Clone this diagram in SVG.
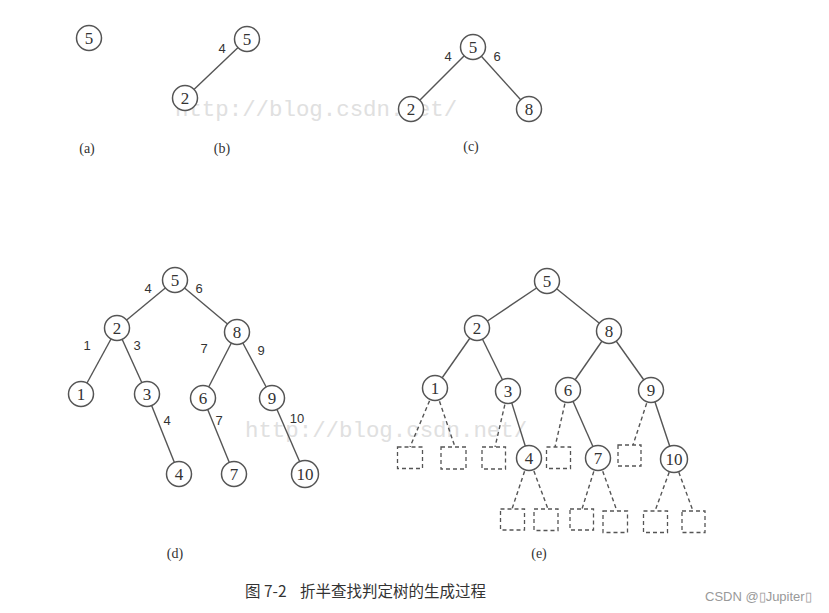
<svg xmlns="http://www.w3.org/2000/svg" width="829" height="613" viewBox="0 0 829 613">
<style>
.n circle{fill:#fff;stroke:#555;stroke-width:1.5}
.n text{font-family:"Liberation Serif",serif;font-size:17px;fill:#333;text-anchor:middle}
.e line{stroke:#555;stroke-width:1.4}
.e line.d{stroke-dasharray:4 3}
.lbl{font-family:"Liberation Sans",sans-serif;font-size:13px;fill:#333;text-anchor:middle}
.sub{font-family:"Liberation Serif",serif;font-size:14px;fill:#333;text-anchor:middle}
.sq rect{fill:#fff;stroke:#555;stroke-width:1.3;stroke-dasharray:4 3}
.wm{font-family:"Liberation Mono",monospace;font-size:22.4px;fill:#e0e0e0}
.cap{font-family:"Noto Sans CJK SC",sans-serif;font-size:15.5px;fill:#333}
</style>
<rect width="829" height="613" fill="#fff"/>
<text class="wm" x="175" y="116">http://blog.csdn.net/</text>
<text class="wm" x="245" y="437">http://blog.csdn.net/</text>

<g id="connectors" class="e">
  <line x1="247" y1="39" x2="185" y2="98"/>
  <line x1="473" y1="47" x2="411" y2="109"/>
  <line x1="473" y1="47" x2="529" y2="109"/>
  <line x1="175" y1="280" x2="117" y2="328"/>
  <line x1="175" y1="280" x2="237" y2="332"/>
  <line x1="117" y1="328" x2="81" y2="394"/>
  <line x1="117" y1="328" x2="147" y2="394"/>
  <line x1="237" y1="332" x2="203" y2="398"/>
  <line x1="237" y1="332" x2="272" y2="398"/>
  <line x1="147" y1="394" x2="179" y2="474"/>
  <line x1="203" y1="398" x2="234" y2="474"/>
  <line x1="272" y1="398" x2="305" y2="474"/>
  <line x1="547" y1="281" x2="477" y2="328"/>
  <line x1="547" y1="281" x2="609" y2="331"/>
  <line x1="477" y1="328" x2="435" y2="388"/>
  <line x1="477" y1="328" x2="508" y2="391"/>
  <line x1="609" y1="331" x2="568" y2="390"/>
  <line x1="609" y1="331" x2="651" y2="390"/>
  <line x1="508" y1="391" x2="529" y2="458"/>
  <line x1="568" y1="390" x2="598" y2="458"/>
  <line x1="651" y1="390" x2="674" y2="459"/>
  <line class="d" x1="435" y1="388" x2="410" y2="447"/>
  <line class="d" x1="435" y1="388" x2="455" y2="447"/>
  <line class="d" x1="508" y1="391" x2="495" y2="447"/>
  <line class="d" x1="568" y1="390" x2="555" y2="447"/>
  <line class="d" x1="651" y1="390" x2="633" y2="445"/>
  <line class="d" x1="529" y1="458" x2="512" y2="509"/>
  <line class="d" x1="529" y1="458" x2="548" y2="509"/>
  <line class="d" x1="598" y1="458" x2="582" y2="509"/>
  <line class="d" x1="598" y1="458" x2="617" y2="511"/>
  <line class="d" x1="674" y1="459" x2="655" y2="511"/>
  <line class="d" x1="674" y1="459" x2="693" y2="511"/>
</g>

<g id="edge-labels">
  <text class="lbl" x="222" y="53">4</text>
  <text class="lbl" x="448" y="61">4</text>
  <text class="lbl" x="497" y="61">6</text>
  <text class="lbl" x="148" y="293">4</text>
  <text class="lbl" x="199" y="293">6</text>
  <text class="lbl" x="87" y="350">1</text>
  <text class="lbl" x="137" y="350">3</text>
  <text class="lbl" x="204" y="353">7</text>
  <text class="lbl" x="261" y="355">9</text>
  <text class="lbl" x="167" y="425">4</text>
  <text class="lbl" x="219" y="425">7</text>
  <text class="lbl" x="297" y="423">10</text>
</g>

<g id="a5" class="n"><circle cx="89" cy="38" r="12.5"/><text x="89" y="44">5</text></g>
<g id="b5" class="n"><circle cx="247" cy="39" r="12.5"/><text x="247" y="45">5</text></g>
<g id="b2" class="n"><circle cx="185" cy="98" r="12.5"/><text x="185" y="104">2</text></g>
<g id="c5" class="n"><circle cx="473" cy="47" r="12.5"/><text x="473" y="53">5</text></g>
<g id="c2" class="n"><circle cx="411" cy="109" r="12.5"/><text x="411" y="115">2</text></g>
<g id="c8" class="n"><circle cx="529" cy="109" r="12.5"/><text x="529" y="115">8</text></g>
<g id="d5" class="n"><circle cx="175" cy="280" r="12.5"/><text x="175" y="286">5</text></g>
<g id="d2" class="n"><circle cx="117" cy="328" r="12.5"/><text x="117" y="334">2</text></g>
<g id="d8" class="n"><circle cx="237" cy="332" r="12.5"/><text x="237" y="338">8</text></g>
<g id="d1" class="n"><circle cx="81" cy="394" r="12.5"/><text x="81" y="400">1</text></g>
<g id="d3" class="n"><circle cx="147" cy="394" r="12.5"/><text x="147" y="400">3</text></g>
<g id="d6" class="n"><circle cx="203" cy="398" r="12.5"/><text x="203" y="404">6</text></g>
<g id="d9" class="n"><circle cx="272" cy="398" r="12.5"/><text x="272" y="404">9</text></g>
<g id="d4" class="n"><circle cx="179" cy="474" r="12.5"/><text x="179" y="480">4</text></g>
<g id="d7" class="n"><circle cx="234" cy="474" r="12.5"/><text x="234" y="480">7</text></g>
<g id="d10" class="n"><circle cx="305" cy="474" r="13.5"/><text x="305" y="480">10</text></g>
<g id="e5" class="n"><circle cx="547" cy="281" r="12.5"/><text x="547" y="287">5</text></g>
<g id="e2" class="n"><circle cx="477" cy="328" r="12.5"/><text x="477" y="334">2</text></g>
<g id="e8" class="n"><circle cx="609" cy="331" r="12.5"/><text x="609" y="337">8</text></g>
<g id="e1" class="n"><circle cx="435" cy="388" r="12.5"/><text x="435" y="394">1</text></g>
<g id="e3" class="n"><circle cx="508" cy="391" r="12.5"/><text x="508" y="397">3</text></g>
<g id="e6" class="n"><circle cx="568" cy="390" r="12.5"/><text x="568" y="396">6</text></g>
<g id="e9" class="n"><circle cx="651" cy="390" r="12.5"/><text x="651" y="396">9</text></g>
<g id="e4" class="n"><circle cx="529" cy="458" r="12.5"/><text x="529" y="464">4</text></g>
<g id="e7" class="n"><circle cx="598" cy="458" r="12.5"/><text x="598" y="464">7</text></g>
<g id="e10" class="n"><circle cx="674" cy="459" r="13.5"/><text x="674" y="465">10</text></g>
<g id="e-ext" class="sq">
  <rect x="397.5" y="447" width="25" height="21.5"/>
  <rect x="441" y="447" width="25" height="22"/>
  <rect x="482" y="447" width="23.5" height="22"/>
  <rect x="546.5" y="447" width="24" height="21.5"/>
  <rect x="618" y="445" width="23" height="21"/>
  <rect x="500.5" y="509" width="24" height="21"/>
  <rect x="534" y="509" width="24" height="21.5"/>
  <rect x="570" y="509" width="23.5" height="21"/>
  <rect x="603" y="511" width="24.5" height="21.5"/>
  <rect x="643.5" y="511" width="24" height="21.5"/>
  <rect x="682" y="511" width="23" height="21.5"/>
</g>

<text class="sub" x="87" y="153">(a)</text>
<text class="sub" x="222" y="153">(b)</text>
<text class="sub" x="471" y="151">(c)</text>
<text class="sub" x="175" y="558">(d)</text>
<text class="sub" x="539" y="558">(e)</text>
<text class="cap" x="245" y="597">图 7-2</text>
<text class="cap" x="300" y="597">折半查找判定树的生成过程</text>
<text x="705" y="601" font-family="'Liberation Sans',sans-serif" font-size="13" fill="#999">CSDN @▯Jupiter▯</text>
</svg>
